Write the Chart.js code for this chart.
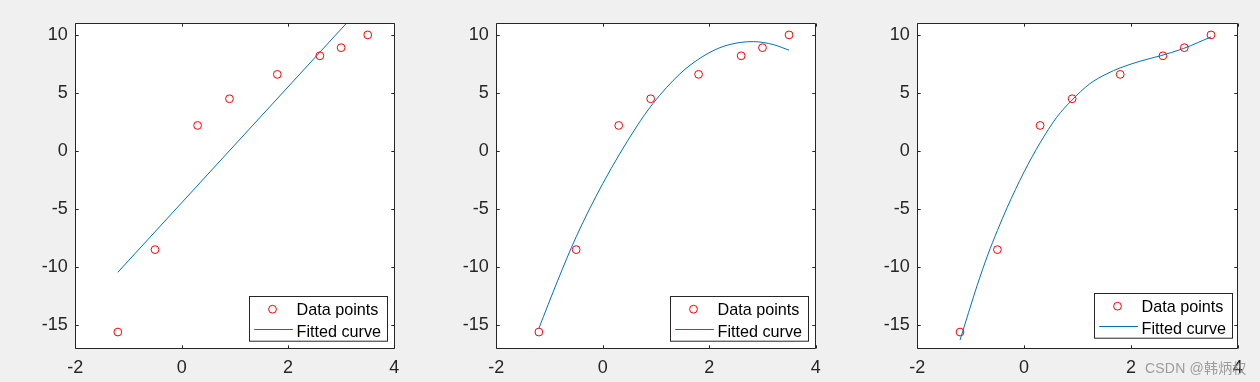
<!DOCTYPE html>
<html><head><meta charset="utf-8">
<script src="https://cdn.jsdelivr.net/npm/chart.js@4.4.1/dist/chart.umd.min.js"></script>
<style>
html,body{margin:0;padding:0;background:#f0f0f0;width:1260px;height:382px;overflow:hidden;}
.wrap{position:absolute;top:0;height:382px;}
#wm{position:absolute;left:1145px;top:357px;font:14px "Liberation Sans","Noto Sans CJK SC",sans-serif;color:rgba(135,135,135,0.8);white-space:nowrap;letter-spacing:0.2px;}
</style></head><body>
<div class="wrap" style="left:0px;width:420px"><canvas id="c0" width="420" height="382"></canvas></div>
<div class="wrap" style="left:421px;width:420px"><canvas id="c1" width="420" height="382"></canvas></div>
<div class="wrap" style="left:842px;width:418px"><canvas id="c2" width="418" height="382"></canvas></div>
<div id="wm">CSDN @韩炳权</div>
<script>
// ---- data ----
const xData = [-1.2, -0.5, 0.3, 0.9, 1.8, 2.6, 3.0, 3.5];
const yData = [-15.6, -8.5, 2.2, 4.5, 6.6, 8.2, 8.9, 10.0];

const linearX = [-1.2, 3.5];
const linearY = [-10.45, 13.0];

const quadX = [-1.2, -0.85, -0.5, 0, 0.63, 0.94, 1.45, 1.83, 2.2, 2.58, 2.83, 3.2, 3.5];
const quadY = [-15.28, -11.2, -7.4, -2.81, 2.06, 4.07, 6.65, 8.0, 8.9, 9.35, 9.42, 9.17, 8.68];

const cubicX = [-1.2, -0.88, -0.68, -0.5, -0.32, 0, 0.3, 0.61, 0.89, 1.23, 1.55, 1.8, 2.17, 2.55, 2.98, 3.5];
const cubicY = [-16.29, -11.6, -8.95, -6.85, -4.9, -1.8, 0.7, 2.9, 4.35, 5.79, 6.65, 7.16, 7.73, 8.2, 8.82, 9.83];

const xTicks = [-2, 0, 2, 4];
const yTicks = [-15, -10, -5, 0, 5, 10];
const legendLabels = ['Data points', 'Fitted curve'];

// ---- layout (pixels) ----
const panels = [
  {id:'c0', w:420, left:75.3, right:394.3, legR:7.0, legB:7.3, fx:linearX, fy:linearY},
  {id:'c1', w:420, left:75.3, right:394.7, legR:7.4, legB:7.3, fx:quadX, fy:quadY},
  {id:'c2', w:418, left:75.3, right:395.7, legR:5.4, legB:10.0, fx:cubicX, fy:cubicY}
];
const TOP = 23.3, BOTTOM = 348.3, H = 382;
const AXC = '#262626';
const FONT = '"Liberation Sans", Arial, Helvetica, sans-serif';

const framePlugin = {
  id: 'frame',
  beforeDraw(chart) {
    const {ctx, chartArea: a} = chart;
    ctx.save();
    ctx.fillStyle = '#ffffff';
    ctx.fillRect(a.left, a.top, a.right - a.left, a.bottom - a.top);
    ctx.restore();
  },
  afterDatasetsDraw(chart) {
    const {ctx, chartArea: a, scales} = chart;
    const L = Math.floor(a.left) + 0.5, R = Math.floor(a.right) + 0.5;
    const T = Math.floor(a.top) + 0.5, B = Math.floor(a.bottom) + 0.5;
    ctx.save();
    ctx.strokeStyle = AXC; ctx.lineWidth = 1;
    ctx.beginPath();
    ctx.rect(L, T, R - L, B - T);
    const tl = 3.2;
    scales.x.ticks.forEach(t => {
      const px = Math.round(scales.x.getPixelForValue(t.value)) + 0.5;
      ctx.moveTo(px, B); ctx.lineTo(px, B - tl);
      ctx.moveTo(px, T); ctx.lineTo(px, T + tl);
    });
    scales.y.ticks.forEach(t => {
      const py = Math.round(scales.y.getPixelForValue(t.value)) + 0.5;
      ctx.moveTo(L, py); ctx.lineTo(L + tl, py);
      ctx.moveTo(R, py); ctx.lineTo(R - tl, py);
    });
    ctx.stroke();
    ctx.restore();
  },
  afterDraw(chart, args, opts) {
    const {ctx, chartArea: a} = chart;
    const ds = chart.data.datasets;
    const bw = 138, bh = 44.7;
    const bx = Math.floor(a.right - opts.legR - bw) + 0.5;
    const by = Math.floor(a.bottom - opts.legB - bh) + 0.5;
    ctx.save();
    ctx.fillStyle = '#ffffff';
    ctx.fillRect(bx, by, bw, bh);
    ctx.strokeStyle = AXC; ctx.lineWidth = 1;
    ctx.strokeRect(bx, by, bw, bh);
    // item 1: marker
    ctx.beginPath();
    ctx.arc(bx + 23, by + 12.7, ds[0].pointRadius, 0, Math.PI * 2);
    ctx.strokeStyle = ds[0].borderColor; ctx.lineWidth = ds[0].borderWidth;
    ctx.stroke();
    // item 2: line
    ctx.beginPath();
    ctx.moveTo(bx + 4.7, Math.floor(by + 33) + 0.5);
    ctx.lineTo(bx + 43.4, Math.floor(by + 33) + 0.5);
    ctx.strokeStyle = ds[1].borderColor; ctx.lineWidth = ds[1].borderWidth;
    ctx.stroke();
    ctx.fillStyle = '#000000';
    ctx.font = '16.2px ' + FONT;
    ctx.textBaseline = 'alphabetic';
    ctx.textAlign = 'left';
    ctx.fillText(ds[0].label, bx + 47, by + 18.9);
    ctx.fillText(ds[1].label, bx + 47, by + 40.6);
    ctx.restore();
  }
};

panels.forEach(p => {
  const fitPts = p.fx.map((x, i) => ({x: x, y: p.fy[i]}));
  const dataPts = xData.map((x, i) => ({x: x, y: yData[i]}));
  new Chart(document.getElementById(p.id), {
    type: 'scatter',
    data: {
      datasets: [
        {type: 'scatter', label: legendLabels[0], data: dataPts, order: 1,
         pointStyle: 'circle', pointRadius: 3.9, pointHoverRadius: 3.9,
         borderColor: '#ff0000', backgroundColor: 'rgba(0,0,0,0)', borderWidth: 1},
        {type: 'line', label: legendLabels[1], data: fitPts, order: 0,
         borderColor: '#0072BD', borderWidth: 1, pointRadius: 0, fill: false,
         cubicInterpolationMode: 'monotone', showLine: true}
      ]
    },
    options: {
      responsive: false, animation: false, devicePixelRatio: 1,
      layout: {padding: {left: 0, top: TOP, right: p.w - p.right, bottom: 0}},
      plugins: {legend: {display: false}, tooltip: {enabled: false},
                frame: {legR: p.legR, legB: p.legB}},
      scales: {
        x: {type: 'linear', min: -2, max: 4,
            afterBuildTicks: s => { s.ticks = xTicks.map(v => ({value: v})); },
            afterFit: s => { s.height = H - BOTTOM; },
            grid: {display: false, drawTicks: false}, border: {display: false},
            ticks: {font: {size: 18, family: FONT}, color: AXC, padding: 9, maxRotation: 0}},
        y: {type: 'linear', min: -17, max: 11,
            afterBuildTicks: s => { s.ticks = yTicks.map(v => ({value: v})); },
            afterFit: s => { s.width = p.left; },
            grid: {display: false, drawTicks: false}, border: {display: false},
            ticks: {font: {size: 18, family: FONT}, color: AXC, padding: 7.5}}
      }
    },
    plugins: [framePlugin]
  });
});
</script>
</body></html>
